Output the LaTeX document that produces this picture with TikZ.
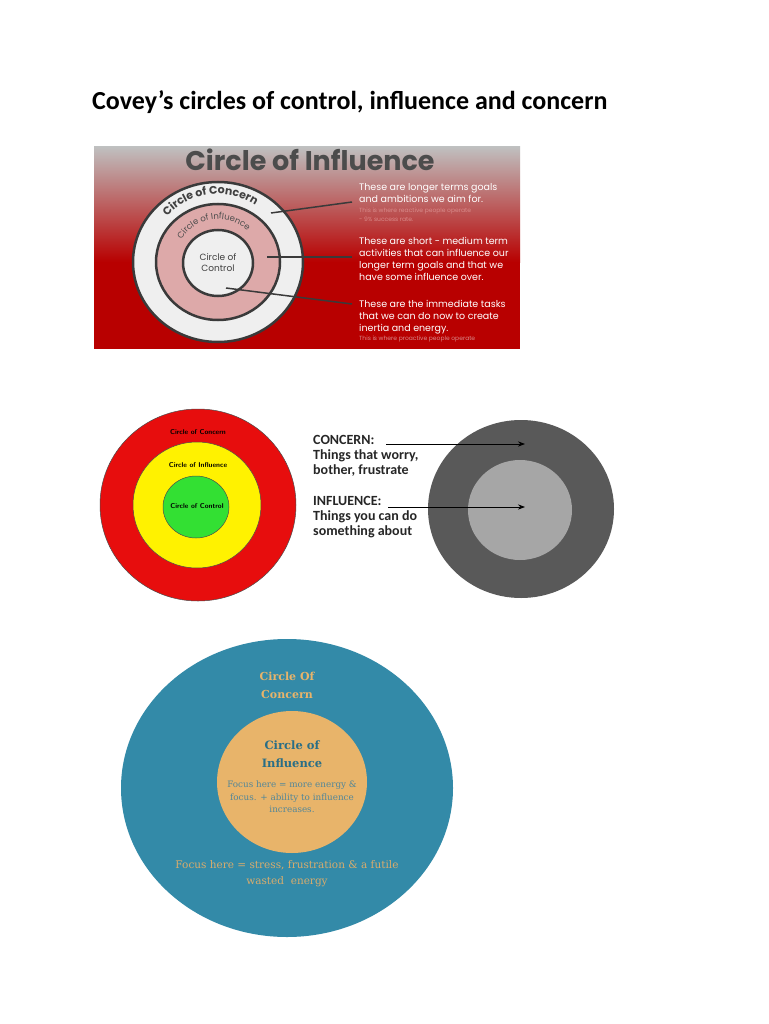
\documentclass[tikz,border=0pt]{standalone}
\usepackage{fontspec}
\setmainfont{Carlito}
\newfontfamily\gothic{Poppins}
\newfontfamily\slab{DejaVu Serif}
\usetikzlibrary{decorations.text,arrows.meta}
\definecolor{panelred}{HTML}{B80000}
\definecolor{ringpink}{HTML}{DDA9A9}
\definecolor{ringwhite}{HTML}{EFEFEF}
\definecolor{ringline}{HTML}{3A3A3A}
\definecolor{teal}{HTML}{338AA8}
\definecolor{sand}{HTML}{E8B46A}
\definecolor{darkgray}{HTML}{595959}
\definecolor{lightgray}{HTML}{A6A6A6}
\definecolor{fadedred}{HTML}{D98A8A}
\tikzset{
  ring/.style={draw=ringline, line width=2.5pt},
  pointer/.style={draw=ringline, line width=1.5pt},
  whitetext/.style={text=white, font=\gothic\fontsize{9.5}{12}\selectfont, align=left, anchor=north west, inner sep=0pt},
  smalltext/.style={text=fadedred, font=\gothic\fontsize{6}{8.5}\selectfont, align=left, anchor=north west, inner sep=0pt},
  target/.style={draw=black!70, line width=0.5pt},
  tinylabel/.style={font=\sffamily\bfseries\fontsize{7}{8}\selectfont, inner sep=0pt},
  greytext/.style={font=\bfseries\fontsize{14}{15}\selectfont, align=left, anchor=north west, inner sep=0pt},
  arrowline/.style={-{Stealth[length=7pt]}, line width=1pt}
}
\begin{document}
\begin{tikzpicture}[x=1pt,y=-1pt]
\useasboundingbox (0,0) rectangle (768,1024);
\fill[white] (0,0) rectangle (768,1024);

% title
\node[anchor=base west, inner sep=0pt, font=\bfseries\fontsize{26}{30}\selectfont] (title) at (92,110) {Covey’s circles of control, influence and concern};

% panel 1
\fill[panelred] (94,147) rectangle (520,349);
\shade[top color=black!25, bottom color=panelred] (94,147) rectangle (520,262);
\node[text=black!70, font=\gothic\bfseries\fontsize{27}{30}\selectfont, inner sep=0pt] (bigtitle) at (310,160) {Circle of Influence};
\draw[ring, fill=ringwhite] (218,262) ellipse[x radius=85, y radius=80];
\draw[ring, fill=ringpink] (218,262) ellipse[x radius=62, y radius=58];
\draw[ring, fill=ringwhite] (218,263) ellipse[x radius=35, y radius=33];
\node[align=center, text=black!75, font=\gothic\fontsize{9}{11}\selectfont] (control) at (218,263) {Circle of\\Control};
\begin{scope}[shift={(218,262)}, y=1pt]
  \path[decorate, decoration={text along path, text align=center,
    text={|\gothic\bfseries\fontsize{11}{12}\selectfont\color{black!75}|Circle of Concern}}]
    (160:68) arc[start angle=160, end angle=35, radius=68];
  \path[decorate, decoration={text along path, text align=center,
    text={|\gothic\fontsize{8.5}{10}\selectfont\color{black!70}|Circle of Influence}}]
    (165:43) arc[start angle=165, end angle=30, radius=43];
\end{scope}
\coordinate (p1) at (271,213);
\coordinate (p2) at (267,257);
\coordinate (p3) at (226,288);
\node[whitetext] (long) at (359,183) {These are longer terms goals\\and ambitions we aim for.};
\node[smalltext] (reactive) at (359,208) {This is where reactive people operate\\- 9\% success rate.};
\node[whitetext] (short) at (359,237) {These are short - medium term\\activities that can influence our\\longer term goals and that we\\have some influence over.};
\node[whitetext] (now) at (359,300) {These are the immediate tasks\\that we can do now to create\\inertia and energy.};
\node[smalltext, anchor=north west] (proactive) at (359,336) {This is where proactive people operate};
\draw[pointer] (p1) -- (352,202);
\draw[pointer] (p2) -- (352,257);
\draw[pointer] (p3) -- (352,304);

% panel 2 left
\draw[target, fill=red!90!black!95] (198,505) ellipse[x radius=98, y radius=96];
\draw[target, fill=yellow] (197,505) ellipse[x radius=64, y radius=63];
\draw[target, fill=green!85!black!80] (196,507) ellipse[x radius=33, y radius=31];
\node[tinylabel] (concernl) at (198,432) {Circle of Concern};
\node[tinylabel] (influencel) at (198,465) {Circle of Influence};
\node[tinylabel] (controll) at (197,506) {Circle of Control};

% panel 2 right
\fill[darkgray] (521,509) ellipse[x radius=93, y radius=89];
\fill[lightgray] (520,510) ellipse[x radius=52, y radius=50];
\coordinate (outerpt) at (525,444);
\coordinate (innerpt) at (525,507);
\node[greytext, text=black!85] (concern) at (313,435) {CONCERN:\\Things that worry,\\bother, frustrate};
\node[greytext, text=black!85] (influence) at (313,496) {INFLUENCE:\\Things you can do\\something about};
\draw[arrowline] (386,444) -- (outerpt);
\draw[arrowline] (388,507) -- (innerpt);

% panel 3
\fill[teal] (287,788) ellipse[x radius=166, y radius=149];
\fill[sand] (292,782) ellipse[x radius=75, y radius=71];
\node[align=center, text=sand, font=\slab\bfseries\fontsize{11}{18}\selectfont] (coc) at (287,685) {Circle Of\\Concern};
\node[align=center, text=teal!80!black, font=\slab\bfseries\fontsize{11.5}{18}\selectfont] (coi) at (292,754) {Circle of\\Influence};
\node[align=center, text=teal!60!gray, font=\slab\fontsize{8.8}{12.5}\selectfont] (focusin) at (292,797) {Focus here = more energy \&\\focus. + ability to influence\\increases.};
\node[align=center, text=sand!85!gray, font=\slab\fontsize{10.5}{16}\selectfont] (focusout) at (287,874) {Focus here = stress, frustration \& a futile\\wasted\ \ energy};
\end{tikzpicture}
\end{document}
